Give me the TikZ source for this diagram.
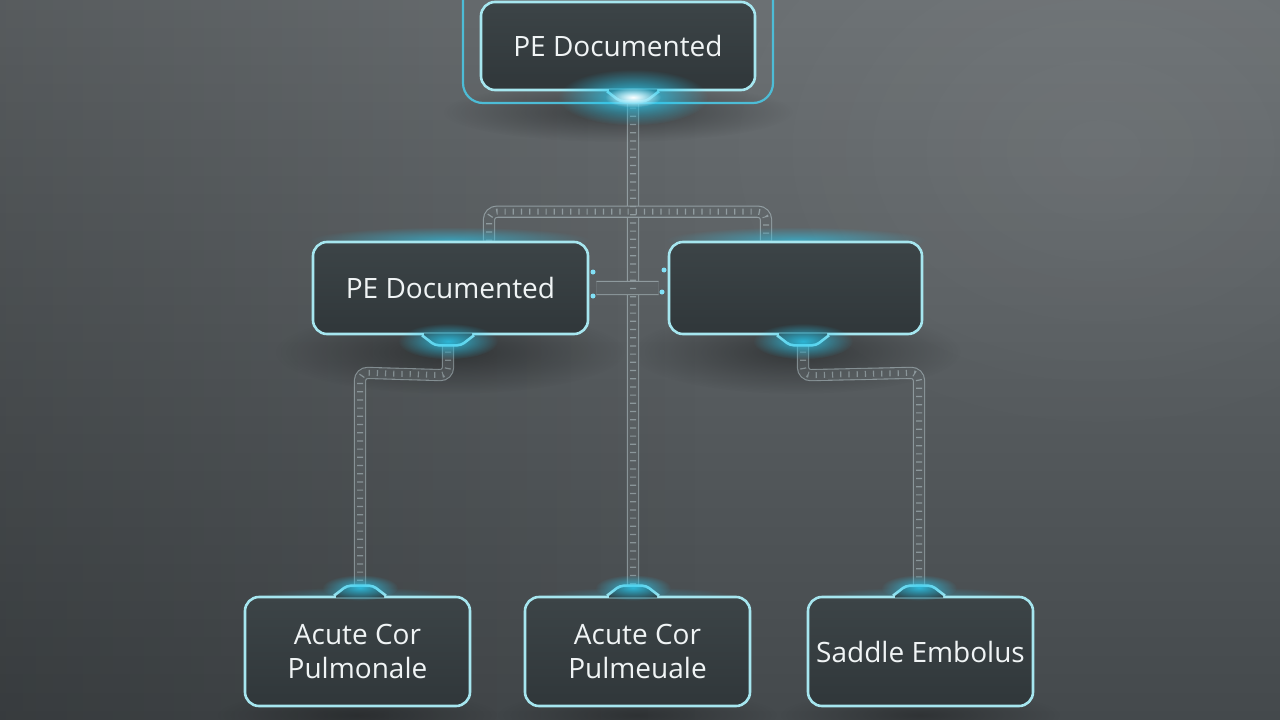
\documentclass[tikz,border=0pt]{standalone}
\usepackage{fontspec}
\setmainfont{Open Sans}
\usetikzlibrary{fadings,calc}
\definecolor{bgtop}{HTML}{6B7073}
\definecolor{bgbot}{HTML}{44494C}
\definecolor{boxfill}{HTML}{30373A}
\definecolor{boxtop}{HTML}{3C4447}
\definecolor{rim}{HTML}{A6E6EF}
\definecolor{rimouter}{HTML}{4DBCD6}
\definecolor{glowc}{HTML}{2CCBF0}
\definecolor{trackc}{HTML}{C4D6DB}
\definecolor{trackin}{HTML}{60676A}
\definecolor{txt}{HTML}{F0F4F5}
\tikzfading[name=glowfade, inner color=transparent!0, outer color=transparent!100]
\pgfdeclarelayer{back}
\pgfdeclarelayer{tracks}
\pgfsetlayers{back,tracks,main}
\newcommand{\notch}[2]{%
  \fill[boxfill] ($(#1)+(-24,{-2*#2})$) -- ($(#1)+(-24,0)$) -- ($(#1)+(-13,{10*#2})$) -- ($(#1)+(13,{10*#2})$) -- ($(#1)+(24,0)$) -- ($(#1)+(24,{-2*#2})$) -- cycle;
  \draw[rim, line width=2.6pt, rounded corners=4pt, line join=round] ($(#1)+(-26,0)$) -- ($(#1)+(-13,{10*#2})$) -- ($(#1)+(13,{10*#2})$) -- ($(#1)+(26,0)$);}
\begin{document}
\begin{tikzpicture}[x=1pt,y=-1pt,
  box/.style={draw=rim, line width=2.6pt, rounded corners=14pt, top color=boxtop, bottom color=boxfill,
    text=txt, font=\fontsize{28}{34}\selectfont, align=center, inner sep=0pt},
  track/.style={draw=trackc, line width=1.1pt, double=trackin, double distance=10pt, rounded corners=8pt},
  ticks/.style={draw=trackc, line width=6pt, dash pattern=on 1.2pt off 7pt, rounded corners=8pt},
  glow/.style={fill=glowc, path fading=glowfade},
  shadow/.style={fill=black, path fading=glowfade, opacity=0.4}]
\useasboundingbox (0,0) rectangle (1280,720);

% boxes
\path (618,46) node[box, minimum width=274pt, minimum height=88pt] (top) {PE Documented};
\path (450.5,288) node[box, minimum width=275pt, minimum height=92pt] (midL) {PE Documented};
\path (795.5,288) node[box, minimum width=253pt, minimum height=92pt] (midR) {};
\path (357.5,651.5) node[box, minimum width=225pt, minimum height=109pt] (botL) {Acute Cor\\Pulmonale};
\path (637.5,651.5) node[box, minimum width=225pt, minimum height=109pt] (botM) {Acute Cor\\Pulmeuale};
\path (920.5,651.5) node[box, minimum width=225pt, minimum height=109pt] (botR) {Saddle Embolus};

% notch coordinates
\coordinate (nT) at ($(top.south)+(15,0)$);
\coordinate (nL) at ($(midL.south)+(-2.5,0)$);
\coordinate (nR) at ($(midR.south)+(7.5,0)$);
\coordinate (nBL) at ($(botL.north)+(2.5,0)$);
\coordinate (nBM) at ($(botM.north)+(-4.5,0)$);
\coordinate (nBR) at ($(botR.north)+(-1.5,0)$);
\coordinate (bL) at ($(midL.north)+(38.5,0)$);
\coordinate (bR) at ($(midR.north)+(-29.5,0)$);

% background and shadows
\begin{pgfonlayer}{back}
\shade[top color=bgtop, bottom color=bgbot] (0,0) rectangle (1280,720);
\fill[black, opacity=0.18, path fading=east] (0,0) rectangle (700,720);
\fill[white, opacity=0.06, path fading=glowfade] (1100,150) ellipse (400pt and 300pt);
\fill[shadow] (450,352) ellipse (175pt and 42pt);
\fill[shadow] (796,352) ellipse (165pt and 42pt);
\fill[shadow] (618,112) ellipse (175pt and 30pt);
\fill[shadow, opacity=0.3] (357,715) ellipse (140pt and 25pt);
\fill[shadow, opacity=0.3] (637,715) ellipse (140pt and 25pt);
\fill[shadow, opacity=0.3] (920,715) ellipse (140pt and 25pt);
\end{pgfonlayer}

% tracks (behind boxes)
\begin{pgfonlayer}{tracks}
\begin{scope}[transparency group, opacity=0.5]
  \draw[track] ($(nT)+(0,8)$) -- ($(nBM)+(0,-10)$);
  \draw[track] (bL) -- ($(bL)+(0,-29)$) -- ($(bR)+(0,-29)$) -- (bR);
  \draw[track] ($(nL)+(0,8)$) -- ($(nL)+(0,40)$) -- ($(nBL)+(0,-223)$) -- ($(nBL)+(0,-10)$);
  \draw[track] ($(nR)+(0,8)$) -- ($(nR)+(0,40)$) -- ($(nBR)+(0,-223)$) -- ($(nBR)+(0,-10)$);
  \draw[track, double distance=12pt, rounded corners=0pt, shorten <=7pt, shorten >=9pt] (midL.east) -- (midR.west);
  \draw[ticks] ($(nT)+(0,8)$) -- ($(nBM)+(0,-10)$);
  \draw[ticks] (bL) -- ($(bL)+(0,-29)$) -- ($(bR)+(0,-29)$) -- (bR);
  \draw[ticks] ($(nL)+(0,8)$) -- ($(nL)+(0,40)$) -- ($(nBL)+(0,-223)$) -- ($(nBL)+(0,-10)$);
  \draw[ticks] ($(nR)+(0,8)$) -- ($(nR)+(0,40)$) -- ($(nBR)+(0,-223)$) -- ($(nBR)+(0,-10)$);
\end{scope}
% outer ring of top box
\draw[rimouter, line width=2.2pt, rounded corners=20pt] (463,-30) rectangle (773,103);
% glows along box tops
\fill[glow, opacity=0.6] (450,240) ellipse (140pt and 13pt);
\fill[glow, opacity=0.6] (796,240) ellipse (130pt and 13pt);
\fill[glow, opacity=0.35] (357,597) ellipse (100pt and 10pt);
\fill[glow, opacity=0.35] (637,597) ellipse (100pt and 10pt);
\fill[glow, opacity=0.35] (920,597) ellipse (100pt and 10pt);
\end{pgfonlayer}

% notches
\notch{nT}{1}
\notch{nL}{1}
\notch{nR}{1}
\notch{nBL}{-1}
\notch{nBM}{-1}
\notch{nBR}{-1}

% notch glows
\fill[glow, opacity=0.95] ($(nT)+(0,6)$) ellipse (75pt and 28pt);
\fill[white, path fading=glowfade] ($(nT)+(0,6)$) ellipse (28pt and 10pt);
\fill[glow, opacity=0.85] ($(nL)+(0,6)$) ellipse (50pt and 18pt);
\fill[glow, opacity=0.85] ($(nR)+(0,6)$) ellipse (50pt and 18pt);
\fill[glow, opacity=0.85] ($(nBL)+(0,-8)$) ellipse (38pt and 13pt);
\fill[glow, opacity=0.85] ($(nBM)+(0,-8)$) ellipse (38pt and 13pt);
\fill[glow, opacity=0.85] ($(nBR)+(0,-8)$) ellipse (38pt and 13pt);

% small cyan dots at link ends
\foreach \p in {(593,272),(593,296),(664,270),(662,292)}
  \fill[glowc!60!white] \p circle (2.5pt);
\end{tikzpicture}
\end{document}
